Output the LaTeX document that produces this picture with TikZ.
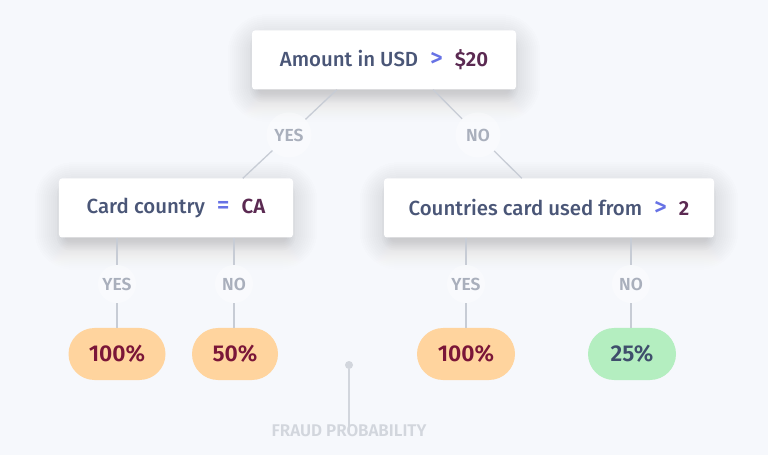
\documentclass[tikz,border=0pt]{standalone}
\usepackage{fontspec}
\setmainfont{Fira Sans}[UprightFont=* Medium, BoldFont=* SemiBold]
\usetikzlibrary{backgrounds}

\definecolor{page-bg}{HTML}{F6F8FC}
\definecolor{txt-slate}{HTML}{4A5677}
\definecolor{op-blue}{HTML}{6772E5}
\definecolor{val-plum}{HTML}{5B2A52}
\definecolor{edge-gray}{HTML}{C7CCD5}
\definecolor{lab-gray}{HTML}{A9AFBC}
\definecolor{note-gray}{HTML}{D2D6DD}
\definecolor{peach}{HTML}{FFD49E}
\definecolor{peach-txt}{HTML}{7B1638}
\definecolor{mint}{HTML}{B4EEC0}
\definecolor{mint-txt}{HTML}{3F4E6C}
\definecolor{shade}{HTML}{3C4257}

\newcommand{\opgt}{\hspace{12bp}\textcolor{op-blue}{\fontsize{25}{22}\selectfont >}\hspace{12bp}}
\newcommand{\opeq}{\hspace{12bp}\textcolor{op-blue}{\fontsize{25}{22}\selectfont =}\hspace{12bp}}
\newcommand{\val}[1]{\textcolor{val-plum}{\bfseries #1}}

\begin{document}
\begin{tikzpicture}[x=1bp, y=-1bp,
    every node/.style={font=\fontsize{20.5}{24}\selectfont, text=txt-slate},
    cond/.style={fill=white, rounded corners=3bp, minimum height=59bp},
    answer/.style={circle, minimum size=38bp, inner sep=0pt, fill=white, fill opacity=0.35,
        text opacity=1, text=lab-gray, font=\fontsize{17.5}{20}\selectfont\bfseries},
    leaf/.style={rounded corners=26bp, minimum height=52bp, inner xsep=0pt,
        font=\fontsize{23}{26}\selectfont\bfseries},
    branch/.style={draw=edge-gray, line width=1.3bp}]
    \useasboundingbox (0,0) rectangle (768,455);

    % Conditions
    \node[cond, minimum width=264bp] (amount) at (384,60) {Amount in USD\opgt\val{\$20}};
    \node[cond, minimum width=234bp] (card-country) at (176,208) {Card country\opeq\val{CA}};
    \node[cond, minimum width=330bp] (countries-used) at (549,208) {Countries card used from\opgt\val{2}};

    % canvas and soft shadows under the condition boxes
    \begin{scope}[on background layer]
        \fill[page-bg] (0,0) rectangle (768,455);
        \foreach \n in {amount, card-country, countries-used}{
            \foreach \r in {-6,-4,...,24}
                \fill[shade, opacity=0.0035, rounded corners=\r bp+14bp]
                    ([shift={(-\r bp, \r bp - 8bp)}]\n.north west) rectangle ([shift={(\r bp, -\r bp - 8bp)}]\n.south east);
            \foreach \r in {0,2,...,8}
                \fill[shade, opacity=0.01, rounded corners=\r bp+6bp]
                    ([shift={(-\r bp + 6bp, \r bp - 10bp)}]\n.north west) rectangle ([shift={(\r bp - 6bp, -\r bp - 5bp)}]\n.south east);
        }
    \end{scope}

    % First split
    \node[answer, minimum size=45bp] (yes-top) at (289,135) {YES};
    \node[answer, minimum size=45bp] (no-top) at (478,135) {NO};
    \draw[branch] ([xshift=85bp]amount.south west) -- (yes-top);
    \draw[branch] (yes-top) -- ([xshift=184bp]card-country.north west);
    \draw[branch] ([xshift=-83bp]amount.south east) -- (no-top);
    \draw[branch] (no-top) -- ([xshift=138bp]countries-used.north west);

    % Second split
    \node[answer] (yes-ca) at (117,284) {YES};
    \node[answer] (no-ca) at (234,284) {NO};
    \node[answer] (yes-cnt) at (466,284) {YES};
    \node[answer] (no-cnt) at (631,284) {NO};

    % Fraud probability leaves
    \node[leaf, fill=peach, text=peach-txt, minimum width=97bp] (leaf-1) at (117,354) {100\%};
    \node[leaf, fill=peach, text=peach-txt, minimum width=86bp] (leaf-2) at (235,354) {50\%};
    \node[leaf, fill=peach, text=peach-txt, minimum width=98bp] (leaf-3) at (466,354) {100\%};
    \node[leaf, fill=mint, text=mint-txt, minimum width=88bp] (leaf-4) at (632,354) {25\%};

    \foreach \ans/\cond/\lf in {yes-ca/card-country/leaf-1, no-ca/card-country/leaf-2,
                                yes-cnt/countries-used/leaf-3, no-cnt/countries-used/leaf-4}{
        \draw[branch] (\ans |- \cond.south) -- (\ans);
        \draw[branch] (\ans) -- (\ans |- \lf.north);
    }

    % Legend
    \node[circle, fill=note-gray, inner sep=0pt, minimum size=8bp] (pin) at (349,365) {};
    \node[font=\fontsize{17}{20}\selectfont\bfseries, text=note-gray] (fraud-label) at (349,431) {FRAUD PROBABILITY};
    \draw[draw=note-gray, line width=1.6bp] (pin) -- ([yshift=-12bp]fraud-label.north);
\end{tikzpicture}
\end{document}
